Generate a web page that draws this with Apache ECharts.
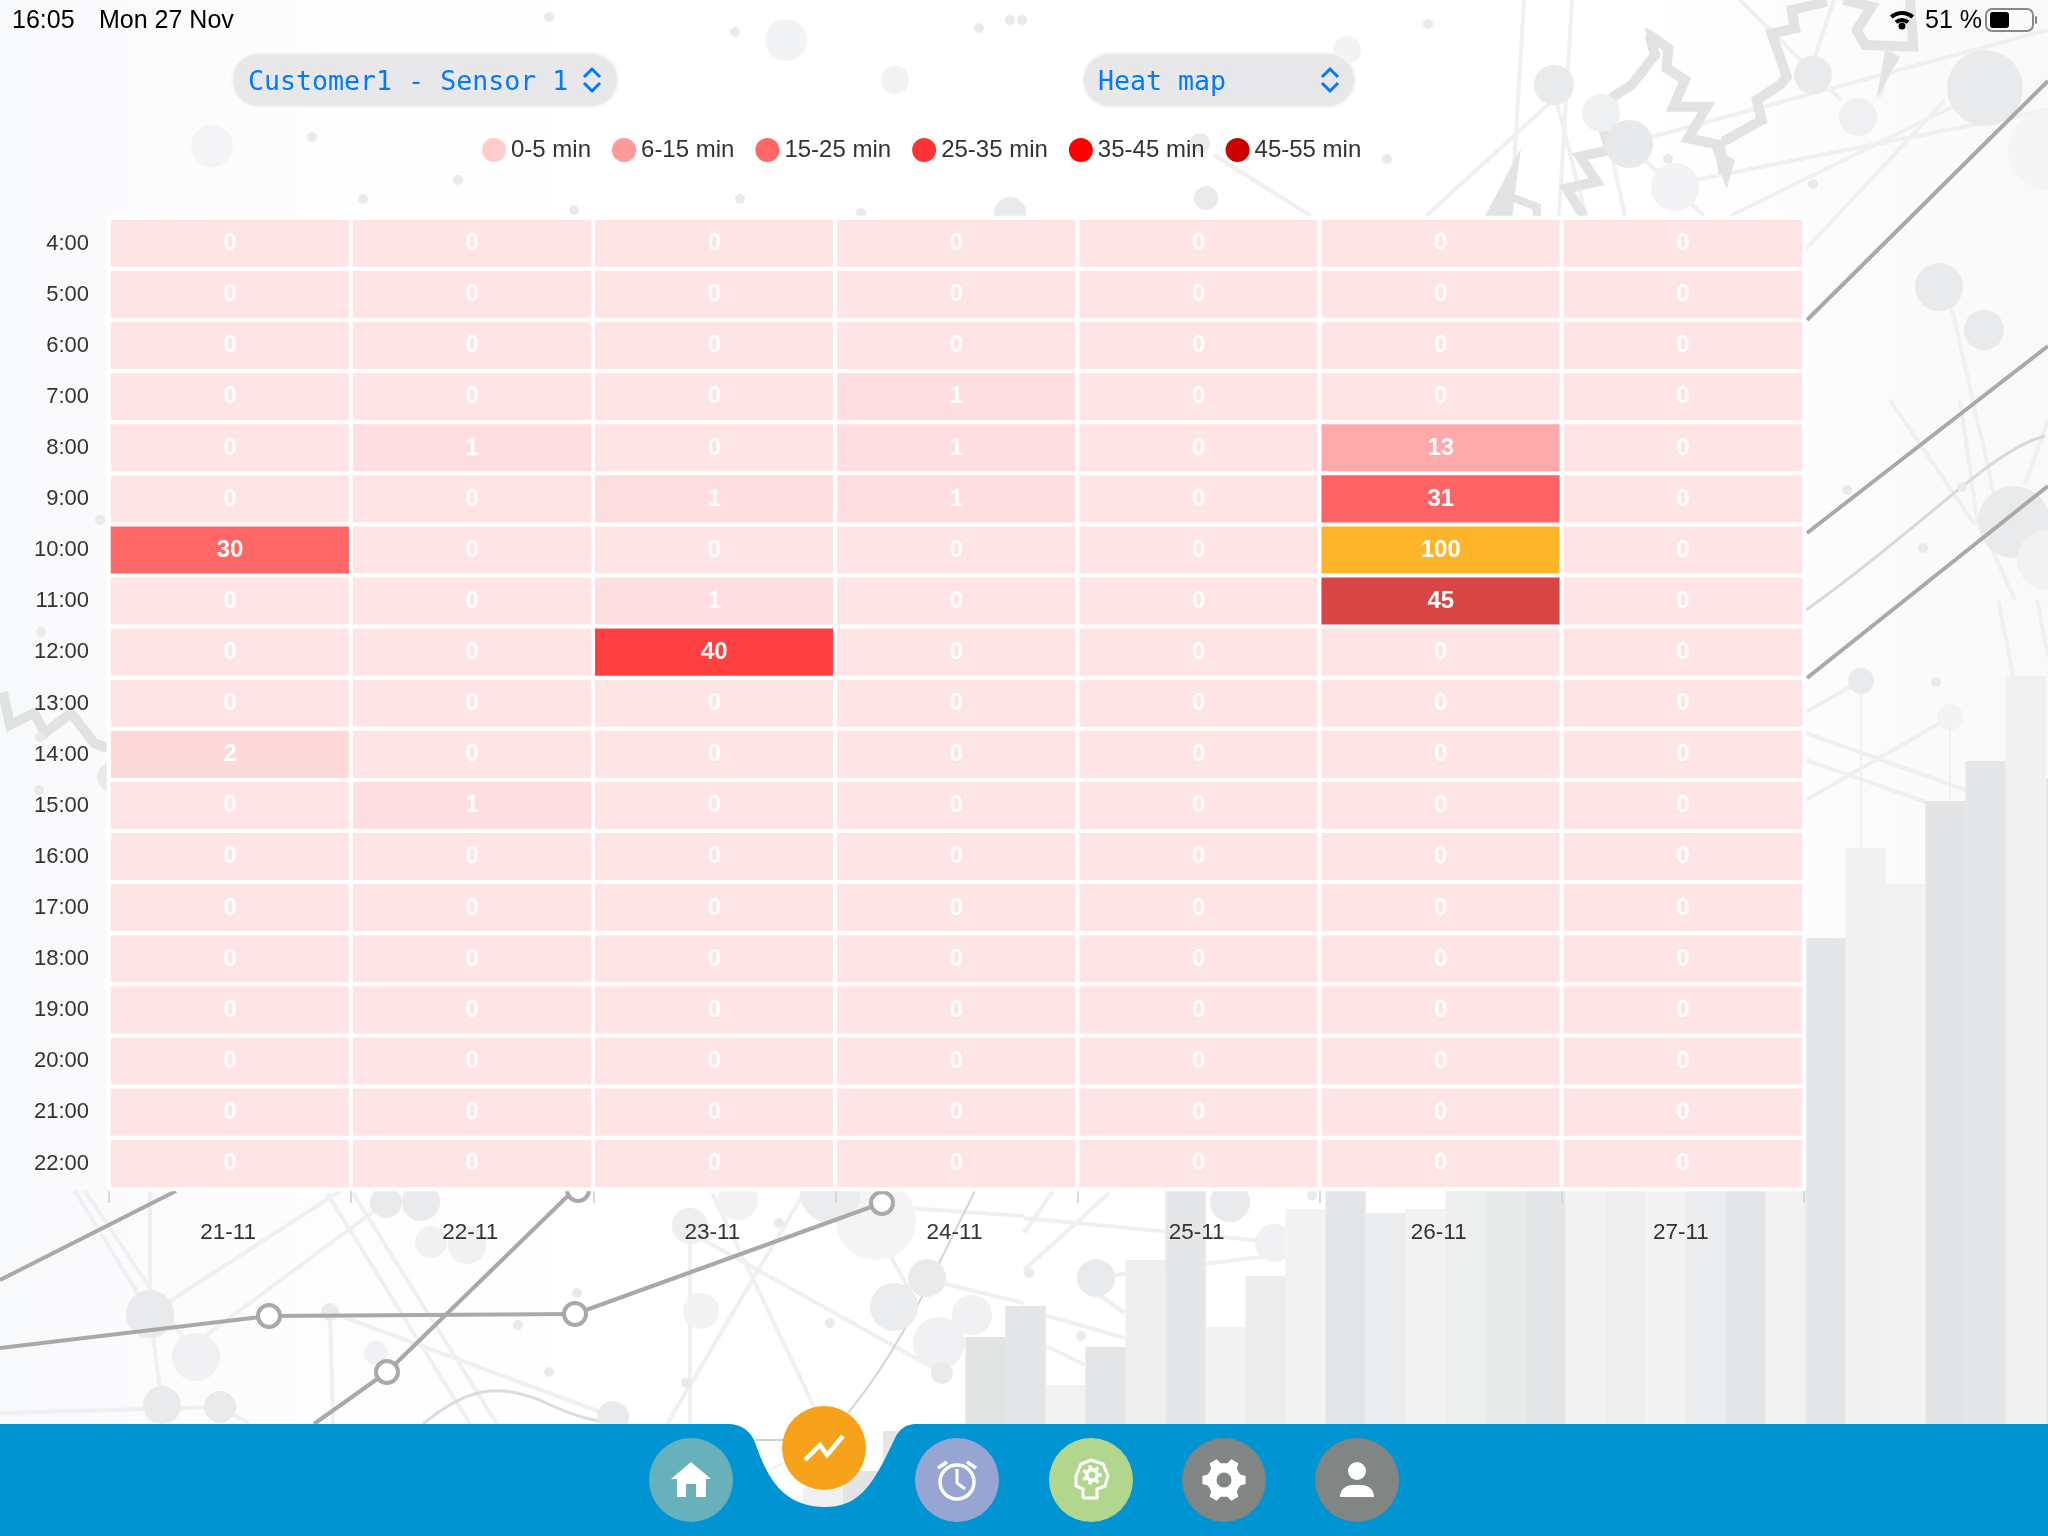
<!DOCTYPE html>
<html>
<head>
<meta charset="utf-8">
<title>Heat map</title>
<script src="https://cdn.jsdelivr.net/npm/echarts@6/dist/echarts.min.js"></script>
<style>
html,body{margin:0;padding:0;background:#fff;}
#chart{width:2048px;height:1536px;}
</style>
</head>
<body>
<div id="chart"></div>
<script>
var days = ['21-11','22-11','23-11','24-11','25-11','26-11','27-11'];
var hours = ['4:00','5:00','6:00','7:00','8:00','9:00','10:00','11:00','12:00','13:00','14:00','15:00','16:00','17:00','18:00','19:00','20:00','21:00','22:00'];
// one list per day, 4:00 to 22:00
var day21 = [0,0,0,0,0,0,30,0,0,0,2,0,0,0,0,0,0,0,0];
var day22 = [0,0,0,0,1,0,0,0,0,0,0,1,0,0,0,0,0,0,0];
var day23 = [0,0,0,0,0,1,0,1,40,0,0,0,0,0,0,0,0,0,0];
var day24 = [0,0,0,1,1,1,0,0,0,0,0,0,0,0,0,0,0,0,0];
var day25 = [0,0,0,0,0,0,0,0,0,0,0,0,0,0,0,0,0,0,0];
var day26 = [0,0,0,0,13,31,100,45,0,0,0,0,0,0,0,0,0,0,0];
var day27 = [0,0,0,0,0,0,0,0,0,0,0,0,0,0,0,0,0,0,0];
var legendNames = ['0-5 min','6-15 min','15-25 min','25-35 min','35-45 min','45-55 min'];
var legendColors = ['#ffcccc','#ff9999','#ff6666','#ff3333','#ff0000','#cc0000'];
var cellPieces = [
    {value:0,color:'#ffe4e5'},{value:1,color:'#fedee0'},{value:2,color:'#fed9d9'},
    {value:13,color:'#ffa9ab'},{value:30,color:'#ff6666'},{value:31,color:'#ff6366'},
    {value:40,color:'#ff4040'},{value:45,color:'#d94545'},{value:100,color:'#ffb52a'}
];

var allDays = [day21,day22,day23,day24,day25,day26,day27];
var cells = [];
allDays.forEach(function(vals,d){
    vals.forEach(function(v,h){ cells.push([d,h,v]); });
});

// background picture (decoration only, not data)
var back = [];
function bgLine(pts,color,w){
    back.push({type:'polyline',z:-8,silent:true,shape:{points:pts},style:{fill:null,stroke:color,lineWidth:w}});
}
function bgDot(x,y,r,color){
    back.push({type:'circle',z:-7,silent:true,shape:{cx:x,cy:y,r:r},style:{fill:color}});
}
function bgCurve(a,b,c,d,color,w){
    back.push({type:'bezierCurve',z:-8,silent:true,shape:{x1:a[0],y1:a[1],cpx1:b[0],cpy1:b[1],cpx2:c[0],cpy2:c[1],x2:d[0],y2:d[1]},style:{fill:null,stroke:color,lineWidth:w}});
}
back.push({type:'rect',z:-10,silent:true,shape:{x:0,y:0,width:2048,height:1536},
    style:{fill:new echarts.graphic.LinearGradient(0,0,1,0,[{offset:0,color:'#f8f9fb'},{offset:0.1,color:'#fcfcfd'},{offset:0.3,color:'#ffffff'},{offset:0.8,color:'#ffffff'},{offset:0.92,color:'#fbfbfc'},{offset:1,color:'#f9f9fa'}])}});

var thin = '#eff0f1';
[
 [[1524,0],[1511,216]],[[1572,0],[1559,216]],[[1553,100],[1426,216]],[[1557,103],[1586,216]],[[1609,143],[1625,216]],
 [[1645,160],[1704,216]],[[2048,30],[1651,137]],[[1952,107],[1730,216]],[[1740,0],[1841,100]],[[1834,0],[1815,57]],
 [[1893,50],[1880,97]],[[1214,155],[1311,216]],[[1695,180],[2048,110]],
 [[1805,250],[1945,100]],[[1890,400],[1975,525]],[[1960,400],[1978,525]],[[1990,545],[2015,600]],[[2048,420],[2025,485]],
 [[1806,712],[1850,687]],[[1940,723],[1806,800]],[[1806,733],[1966,790]],[[1806,760],[1926,802]],[[1998,600],[2013,676]],[[2037,600],[2048,657]],[[1950,300],[2000,520]],
 [[150,1191],[150,1314]],[[150,1314],[340,1191]],[[75,1191],[150,1314]],[[150,1314],[162,1405]],[[196,1357],[85,1191]],
 [[0,1413],[220,1407]],[[220,1407],[250,1424]],[[386,1202],[173,1360]],[[330,1310],[333,1424]],[[327,1193],[470,1424]],
 [[353,1193],[497,1424]],[[330,1312],[614,1417]],[[690,1225],[690,1424]],[[712,1193],[817,1413]],[[804,1193],[667,1424]],
 [[686,1230],[942,1373]],[[876,1230],[915,1300]],[[908,1208],[1024,1216]],[[941,1283],[1024,1303]],
 [[1024,1218],[1285,1243]],[[1115,1275],[1285,1254]],[[1109,1193],[1024,1270]],[[1053,1191],[1024,1233]],
 [[1096,1293],[1125,1313]],[[1044,1315],[1125,1338]],[[1044,1345],[1085,1365]]
].forEach(function(l){ bgLine(l,thin,4); });
bgLine([[1861,694],[1861,848]],thin,2);
bgLine([[1950,730],[1950,801]],thin,2);
bgLine([[755,1440],[783,1440]],'#d2d2d2',2);
bgLine([[770,1470],[783,1463]],thin,2);
bgCurve([423,1424],[470,1385],[500,1385],[540,1400],'#dcdcdc',3);
bgCurve([540,1400],[570,1415],[590,1420],[614,1424],'#dcdcdc',3);
bgCurve([848,1413],[900,1350],[930,1280],[975,1191],'#d4d4d4',2);
bgCurve([1806,610],[1920,530],[1990,450],[2045,436],'#d9d9d9',3);

// torn zigzag shapes, read at 3x from the corner at x=1560
function corner(pts){
    return pts.map(function(p){ return [1560+p[0]/3,p[1]/3]; });
}
var zig = '#e2e3e3';
bgLine(corner([[270,110],[285,165],[215,255],[160,290],[130,390],[150,450],[60,470],[110,545],[20,565],[70,648]]),zig,10);
bgLine(corner([[262,100],[325,145],[320,205],[375,240],[340,320],[440,320],[385,415],[480,435],[490,520]]),zig,10);
bgLine(corner([[490,425],[605,360],[590,300],[660,255],[680,230],[635,100],[705,85],[695,30],[800,5]]),zig,10);
bgLine(corner([[850,0],[935,20],[890,90],[915,135],[1060,140],[1050,0]]),zig,10);
back.push({type:'polygon',z:-8,silent:true,shape:{points:corner([[255,82],[300,110],[270,170]])},style:{fill:zig}});
back.push({type:'polygon',z:-8,silent:true,shape:{points:corner([[455,440],[525,480],[500,568]])},style:{fill:zig}});
back.push({type:'polygon',z:-8,silent:true,shape:{points:corner([[975,150],[1020,170],[950,295]])},style:{fill:zig}});
back.push({type:'polygon',z:-8,silent:true,shape:{points:[[1521,148],[1512,216],[1485,216]]},style:{fill:zig}});
bgLine([[1511,197],[1537,207],[1537,216]],zig,8);
bgLine([[3,692],[10,725],[34,713],[45,733],[71,713],[94,743],[107,748]],'#e1e3e3',10);

[[549,17,5],[735,32,5],[786,40,21,'#f2f3f4'],[895,80,14,'#f2f3f4'],[979,28,5],[1010,20,5],[1022,20,5],[212,146,21,'#f4f4f6'],[312,137,5],[458,180,5],[363,199,5],[574,210,5],[740,199,5],[861,213,5],[1010,213,16],
 [1428,24,5],[1347,50,14,'#f2f3f4'],[1554,85,20],[1601,113,19,'#f0f1f2'],[1629,144,24,'#e8e9ea'],[1675,187,24,'#f3f3f5'],[1668,159,5],[1813,75,19],[1858,117,19,'#f0f0f2'],[1985,88,38,'#e9eaeb'],[1813,184,5],[1387,159,5],[1206,198,12],[1200,143,10],[2048,150,40,'#f5f5f6'],
 [1939,287,24],[1984,330,20],[2014,522,36],[1861,681,13],[1950,717,13,'#f3f3f4'],[1936,682,5],[2047,560,30,'#f2f2f3'],[1847,490,5],[1962,487,5],[1923,548,5],[100,520,5],[41,632,5],[40,737,5],[39,790,5],[112,777,15],
 [150,1314,24],[196,1357,24,'#f1f1f3'],[162,1405,19],[220,1407,16],[330,1312,9],[386,1202,16],[421,1202,19],[431,1242,16,'#f1f1f3'],[467,1245,19,'#f1f1f3'],[690,1226,18,'#eeeff0'],[701,1311,18,'#f3f3f4'],[376,1353,12,'#f1f1f3'],[518,1325,5],[577,1293,5],[549,1372,5],[779,1223,5],[830,1323,5],[686,1383,5],[894,1307,24,'#ebecee'],[927,1278,19],[876,1220,40,'#f4f4f5'],[972,1315,20,'#f1f1f3'],[939,1343,26,'#f1f1f3'],[942,1373,11],[613,1417,16],[738,1200,20,'#f2f2f3'],[830,1193,30,'#ebecee'],
 [1230,1202,20],[1096,1278,19],[1274,1243,19,'#f1f1f3'],[1029,1273,5],[1081,1336,5],[1312,1195,5]
].forEach(function(c){ bgDot(c[0],c[1],c[2],c[3]||'#e9eaeb'); });

// decorative columns, 40 wide from the left of the tab notch
var decoTops = [1337,1306,1385,1347,1260,1190,1327,1276,1209,1190,1213,1209,1190,1190,1190,1190,1190,1190,1190,1190,1190,938,848,884,801,761,676];
var decoColors = ['#e2e3e3','#e4e5e6','#f2f2f2','#e4e5e6','#efefef','#e5e6e7','#f3f3f3','#ececed','#f3f3f3','#e4e5e6','#ecedee','#f2f2f3','#edeeee','#e8e9e9','#e4e5e6','#f2f2f2','#eeeeee','#f3f3f3','#ecedee','#e4e5e6','#f2f2f2','#e5e6e7','#f1f1f1','#f2f2f2','#e3e4e5','#e5e6e7','#f1f1f1'];
decoTops.forEach(function(t,i){
    back.push({type:'rect',z:-6,silent:true,shape:{x:965.5+40*i,y:t,width:40.2,height:1430-t},style:{fill:decoColors[i]}});
});
back.push({type:'rect',z:-6,silent:true,shape:{x:2046,y:778,width:2,height:652},style:{fill:'#e5e6e7'}});
// the few columns seen through the notch of the tab bar
[[803,1488,'#f0f0f1'],[843,1471,'#e3e4e5'],[883,1431,'#e5e6e7']].forEach(function(b){
    back.push({type:'rect',z:-6,silent:true,shape:{x:b[0],y:b[1],width:40,height:1510-b[1]},style:{fill:b[2]}});
});

// heavy trend lines over the background
var heavy = '#a9a9a9';
[[[1807,320],[2048,81]],[[1807,533],[2048,346]],[[1807,678],[2048,486]],[[0,1280],[176,1191]],
 [[0,1348],[269,1316]],[[269,1316],[575,1314]],[[575,1314],[882,1203]],[[578,1186],[387,1372]],[[387,1372],[314,1424]]
].forEach(function(l){
    back.push({type:'polyline',z:-5,silent:true,shape:{points:l},style:{fill:null,stroke:heavy,lineWidth:4}});
});
[[269,1316],[575,1314],[387,1372],[882,1203],[578,1190]].forEach(function(c){
    back.push({type:'circle',z:-4,silent:true,shape:{cx:c[0],cy:c[1],r:11},style:{fill:'#fff',stroke:heavy,lineWidth:4}});
});

// app chrome
var blue = '#007aff';
function label(x,y,text,size,color,family){
    return {type:'text',z:20,silent:true,x:x,y:y,style:{text:text,fontSize:size,fill:color,fontFamily:family,align:'left',verticalAlign:'middle'}};
}
function pill(x,w){
    return {type:'rect',z:20,silent:true,shape:{x:x,y:53,width:w,height:54,r:27},style:{fill:'#e8e8ea',stroke:'#f6f6f7',lineWidth:2}};
}
function chevrons(cx){
    var s = {fill:null,stroke:blue,lineWidth:3};
    return [
        {type:'polyline',z:21,silent:true,shape:{points:[[cx-8,77],[cx,69],[cx+8,77]]},style:s},
        {type:'polyline',z:21,silent:true,shape:{points:[[cx-8,83],[cx,91],[cx+8,83]]},style:s}
    ];
}
function bez(p0,p1,p2,p3){
    var out = [];
    for(var i=0;i<=24;i++){
        var t=i/24,u=1-t;
        out.push([u*u*u*p0[0]+3*u*u*t*p1[0]+3*u*t*t*p2[0]+t*t*t*p3[0],
                  u*u*u*p0[1]+3*u*u*t*p1[1]+3*u*t*t*p2[1]+t*t*t*p3[1]]);
    }
    return out;
}
var barPts = [[0,1424]]
    .concat(bez([728,1424],[742,1424],[750,1432],[754,1440]))
    .concat(bez([754,1440],[765,1470],[778,1507],[825,1507]))
    .concat(bez([825,1507],[862,1507],[875,1480],[895,1438]))
    .concat(bez([895,1438],[899,1430],[905,1424],[917,1424]))
    .concat([[2048,1424],[2048,1536],[0,1536]]);
function button(cx,cy,color){
    return {type:'circle',z:21,silent:true,shape:{cx:cx,cy:cy,r:42},style:{fill:color}};
}
function white(type,shape,z){
    return {type:type,z:z||22,silent:true,shape:shape,style:{fill:'#fff'}};
}
function stroke(type,shape,w){
    return {type:type,z:22,silent:true,shape:shape,style:{fill:null,stroke:'#fff',lineWidth:w}};
}
function gearPts(cx,cy,r1,r2,n){
    var pts=[];
    for(var i=0;i<n;i++){
        var a=i*2*Math.PI/n, w=Math.PI/n*0.5;
        [[a-w*1.25,r1],[a-w*0.7,r2],[a+w*0.7,r2],[a+w*1.25,r1]].forEach(function(q){
            pts.push([cx+q[1]*Math.cos(q[0]),cy+q[1]*Math.sin(q[0])]);
        });
    }
    return pts;
}

var chrome = [
    label(12,21,'16:05',25,'#000','Liberation Sans'),
    label(99,21,'Mon 27 Nov',25,'#000','Liberation Sans'),
    label(1925,21,'51 %',25,'#000','Liberation Sans'),
    {type:'circle',z:20,silent:true,shape:{cx:1902,cy:26,r:3.5},style:{fill:'#000'}},
    {type:'arc',z:20,silent:true,shape:{cx:1902,cy:29,r:9,startAngle:-2.3,endAngle:-0.84},style:{fill:null,stroke:'#000',lineWidth:4}},
    {type:'arc',z:20,silent:true,shape:{cx:1902,cy:29,r:16,startAngle:-2.3,endAngle:-0.84},style:{fill:null,stroke:'#000',lineWidth:4}},
    {type:'rect',z:20,silent:true,shape:{x:1986,y:9,width:47,height:22,r:6},style:{fill:null,stroke:'#888',lineWidth:2}},
    {type:'rect',z:20,silent:true,shape:{x:1990,y:12,width:19,height:16,r:3},style:{fill:'#000'}},
    {type:'rect',z:20,silent:true,shape:{x:2035,y:16,width:2,height:8,r:1},style:{fill:'#888'}},
    pill(232,386),
    label(248,83,'Customer1 - Sensor 1',26.6,blue,'DejaVu Sans Mono'),
    pill(1083,272),
    label(1098,83,'Heat map',26.6,blue,'DejaVu Sans Mono'),
    {type:'polygon',z:20,silent:true,shape:{points:barPts},style:{fill:'#0094d3'}},
    button(691,1480,'#68b1bb'),button(824,1448,'#f7a21b'),button(957,1480,'#97a5d3'),
    button(1091,1480,'#b3d68e'),button(1224,1480,'#818685'),button(1357,1480,'#818685'),
    // home
    white('polygon',{points:[[691,1462],[711,1479],[671,1479]]}),
    white('rect',{x:677,y:1479,width:29,height:18}),
    {type:'rect',z:23,silent:true,shape:{x:686,y:1484,width:10,height:13},style:{fill:'#68b1bb'}},
    // trend
    {type:'polyline',z:22,silent:true,shape:{points:[[805,1460],[820,1445],[827,1455],[843,1436]]},style:{fill:null,stroke:'#fff',lineWidth:4.5}},
    // clock
    stroke('circle',{cx:957,cy:1482,r:17},3.5),
    stroke('polyline',{points:[[957,1469],[957,1483],[965,1489]]},3),
    stroke('line',{x1:938,y1:1468,x2:947,y2:1462},3.5),
    stroke('line',{x1:976,y1:1468,x2:967,y2:1462},3.5),
    // brain head
    stroke('polyline',{points:[[1083,1498],[1083,1489],[1076,1486],[1076,1476],[1081,1464],[1091,1460],[1103,1464],[1108,1476],[1105,1486],[1097,1489],[1097,1498],[1083,1498]]},3),
    white('polygon',{points:gearPts(1092,1475,7,10,7)}),
    {type:'circle',z:23,silent:true,shape:{cx:1092,cy:1475,r:3.5},style:{fill:'#b3d68e'}},
    // gear
    white('polygon',{points:gearPts(1224,1480,17,22,6)}),
    {type:'circle',z:23,silent:true,shape:{cx:1224,cy:1480,r:7.5},style:{fill:'#818685'}},
    // person
    white('circle',{cx:1357,cy:1471,r:9}),
    white('rect',{x:1340,y:1485,width:34,height:12,r:[12,12,0,0]})
].concat(chevrons(592)).concat(chevrons(1330));

var myChart = echarts.init(document.getElementById('chart'));
var series = [{
    type:'heatmap',
    name:'Heat map',
    data:cells,
    label:{show:true,color:'#fff',fontSize:24,fontWeight:'bold',fontFamily:'Liberation Sans',padding:[4,0,0,0]},
    itemStyle:{borderColor:'#fff',borderWidth:4,borderRadius:2},
    emphasis:{disabled:true},
    progressive:0
}];
legendNames.forEach(function(n,i){
    series.push({type:'scatter',name:n,data:[],itemStyle:{color:legendColors[i],opacity:1}});
});
var option = {
    animation:false,
    backgroundColor:'transparent',
    graphic:{elements:back.concat(chrome)},
    legend:{
        data:legendNames,left:477,top:133,icon:'circle',itemWidth:24,itemHeight:24,itemGap:21,
        itemStyle:{opacity:1},
        textStyle:{fontSize:24,color:'#333',fontFamily:'Liberation Sans',padding:[0,0,4,0]}
    },
    grid:{left:109,top:218,width:1695,height:971,show:true,backgroundColor:'#fff',borderColor:'#fff',borderWidth:4,containLabel:false},
    xAxis:{
        type:'category',data:days,
        axisLine:{show:false},
        axisTick:{show:true,length:14,lineStyle:{color:'#d8d8d8',width:2}},
        axisLabel:{fontSize:22.5,color:'#333',margin:32,fontFamily:'Liberation Sans',padding:[0,4,0,0]},
        splitLine:{show:false},splitArea:{show:false}
    },
    yAxis:{
        type:'category',data:hours,inverse:true,
        axisLine:{show:false},axisTick:{show:false},
        axisLabel:{fontSize:22,color:'#333',margin:20,fontFamily:'Liberation Sans',padding:[3,0,0,0]},
        splitLine:{show:false},splitArea:{show:false}
    },
    visualMap:{type:'piecewise',show:false,seriesIndex:0,dimension:2,pieces:cellPieces},
    series:series
};
myChart.setOption(option);
</script>
</body>
</html>
